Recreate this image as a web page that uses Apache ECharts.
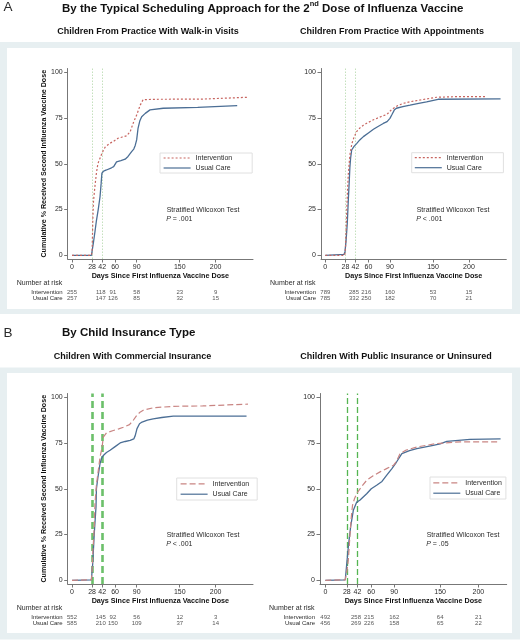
<!DOCTYPE html>
<html>
<head>
<meta charset="utf-8">
<script src="https://cdn.jsdelivr.net/npm/echarts@6/dist/echarts.min.js"></script>
<style>
html,body{margin:0;padding:0;background:#fff;}
#main{width:520px;height:641px;}
</style>
</head>
<body>
<div id="main"></div>
<script>
// ticks and table columns
var dayTicks = [0, 28, 42, 60, 90, 150, 200];
var pctTicks = [0, 25, 50, 75, 100];
var refDays = [28, 42];
var riskDays = [0, 40, 57, 90, 150, 200];
var riskRows = ['Intervention', 'Usual Care'];

// A: walk-in practice  [day, cumulative %]
var walkInIntervention = [[0,0],[27,0],[28,2],[29,20],[30,30],[32,38],[34,45],[36,50],[39,53],[42,56],[46,59],[52,61],[58,62.3],[64,63.9],[70,64.6],[76,65.2],[81,67.5],[85,72],[90,76.6],[95,82],[99,85],[120,85.2],[182,85.3],[183,86.3],[245,86.3]];
var walkInUsual = [[0,0],[27,0],[28,1],[29.7,6.6],[32,13],[34,19],[36.5,25],[39,32],[40.5,39],[41.6,44.8],[44,46],[48,46.6],[55,47.8],[58,48.4],[62,51],[68,51.7],[74,52.5],[78,54],[83,56.6],[86,58],[88,60],[90,63],[92,69.5],[94.5,73.5],[97,75.7],[102,77.5],[108.6,79.4],[127,80.3],[175,80.8],[176,81.7],[230,81.7]];
var walkInRiskInt = [255, 118, 91, 58, 23, 9];
var walkInRiskUsual = [257, 147, 126, 85, 32, 15];

// A: appointment practice
var apptIntervention = [[0,0],[27,0],[28,3],[29,14],[30,26],[31,36],[32,44],[33.4,51],[34.5,55.5],[37,61],[40,64.5],[43.6,67.5],[48,69.5],[53,71],[60,72.6],[67,74],[78,75.8],[86,77],[88,77.6],[92,79.5],[95,80.3],[101,81.8],[108.6,83],[120,84],[132,84.8],[155,86.3],[187,86.7],[225,86.7]];
var apptUsual = [[0,0],[26,0.5],[27.4,2],[28.8,7.5],[30.6,17.5],[32,30],[33.4,41],[34.2,48],[35.2,53],[36.7,57.5],[40,59.5],[43.6,61],[48,63],[53,64.8],[60,66.8],[67,68.8],[74,70.5],[80.7,72],[86,73],[90,74.8],[93,77],[96,79.3],[99,80.3],[108,81.2],[118,82],[130,83],[141,83.8],[157,85.2],[244,85.4]];
var apptRiskInt = [789, 285, 216, 160, 53, 15];
var apptRiskUsual = [785, 332, 250, 182, 70, 21];

// B: commercial insurance
var commIntervention = [[0,0],[27,0.3],[28,5],[29,16],[30,22],[31,30],[32,42],[34,52],[36.6,60],[39,67.3],[41.6,72],[43.6,78.2],[48,80.5],[57.5,81.8],[65,82.7],[71.5,83.6],[80,85],[85,87.2],[90,90],[94.7,91.8],[100,93],[113,94.2],[141,95],[182,95.2],[183,96.2],[245,96.2]];
var commUsual = [[0,0],[27,0.3],[28,1],[28.8,9],[31,25.6],[33.4,40],[34,50],[36,56],[39,63.7],[41,66.5],[43.6,68.2],[48,69.8],[53,71],[60,73],[67,75],[74,75.8],[81,76.4],[86,77.2],[88,79],[90.5,82.8],[94,85.5],[97.5,86.4],[105,87.5],[113,88.2],[125,88.9],[141,89.6],[243,89.6]];
var commRiskInt = [552, 145, 92, 56, 12, 3];
var commRiskUsual = [585, 210, 150, 109, 37, 14];

// B: public insurance or uninsured
var publicIntervention = [[0,0],[26,0.3],[27,1],[28.5,6],[30,11],[32.3,25.6],[34,35],[35.5,41],[38,44.5],[41,47.4],[47,51],[54,54.6],[62,57],[71.5,59.2],[80,61],[89,62.8],[93,65],[97.6,69.2],[105,71],[119.5,72.8],[145.6,74.7],[176,75.6],[228,75.6]];
var publicUsual = [[0,0],[26,0.3],[27,4.7],[30,18.3],[33,29.2],[36.6,38.3],[41,42.7],[45,43.7],[54,47.3],[60,50],[67,51.9],[74,54],[80,57.3],[87,61],[93,64.6],[100,69.2],[110,70.8],[119.5,71.9],[141,73.7],[150,74.5],[158.7,75.9],[189,77],[229,77.2]];
var publicRiskInt = [492, 258, 215, 162, 64, 21];
var publicRiskUsual = [456, 269, 226, 158, 65, 22];

var FONT = 'Liberation Sans';
var BLUE = '#4b6e95';
var TXT = '#2b2b2b';

var panels = [
  {key:'A1', sub:'Children From Practice With Walk-in Visits', subX:148, subY:31.7,
   left:67.7, top:68.5, width:185.3, xMin:-6, xMax:252, yTitle:true,
   intv:walkInIntervention, usual:walkInUsual, rI:walkInRiskInt, rU:walkInRiskUsual,
   p:' = .001', txtX:166.7, txtY:210, lg:{left:160, top:153, pad:[1.5,20,1.5,3], gap:3},
   redColor:'#c7645f', redType:[2,2], refStyle:{color:'#c4e0bd', width:1, type:[1.5,1.5]}},
  {key:'A2', sub:'Children From Practice With Appointments', subX:392, subY:31.7,
   left:321, top:68.5, width:185.3, xMin:-6, xMax:252, yTitle:false,
   intv:apptIntervention, usual:apptUsual, rI:apptRiskInt, rU:apptRiskUsual,
   p:' < .001', txtX:416.7, txtY:210, lg:{left:411.7, top:152.7, pad:[1.5,20,1.5,2.5], gap:3},
   redColor:'#c7645f', redType:[2,2], refStyle:{color:'#c4e0bd', width:1, type:[1.5,1.5]}},
  {key:'B1', sub:'Children With Commercial Insurance', subX:132.5, subY:356.7,
   left:67.7, top:393.5, width:185.3, xMin:-6, xMax:252, yTitle:true,
   intv:commIntervention, usual:commUsual, rI:commRiskInt, rU:commRiskUsual,
   p:' < .001', txtX:166.7, txtY:534.7, lg:{left:176.7, top:478, pad:[2.3,8,2.3,3.3], gap:3.4},
   redColor:'#c98583', redType:[6,3], refStyle:{color:'#6cc06a', width:2.6, type:[7,4]}},
  {key:'B2', sub:'Children With Public Insurance or Uninsured', subX:396, subY:356.7,
   left:320, top:393.5, width:186.7, xMin:-7, xMax:237, yTitle:false,
   intv:publicIntervention, usual:publicUsual, rI:publicRiskInt, rU:publicRiskUsual,
   p:' = .05', txtX:426.7, txtY:534.7, lg:{left:430, top:477, pad:[2.3,4,2.3,2.7], gap:3.4},
   redColor:'#c98583', redType:[6,3], refStyle:{color:'#55b552', width:1.3, type:[6,3]}}
];

var PLOT_H = 190.5;
var grids = [], xAxes = [], yAxes = [], series = [], legends = [], graphics = [];

// graph region boxes
[[42, 48, 261], [367.5, 373, 260]].forEach(function(b){
  graphics.push({type:'rect', z:-20, shape:{x:0, y:b[0], width:520, height:272}, style:{fill:'#e7eff1'}});
  graphics.push({type:'rect', z:-19, shape:{x:7, y:b[1], width:505, height:b[2]}, style:{fill:'#ffffff'}});
});

function txt(t, x, y, size, weight, align, extra){
  var s = {text:t, x:x, y:y, fontFamily:FONT, fontSize:size, fontWeight:weight || 'normal',
           fill:TXT, align:align || 'left', verticalAlign:'middle'};
  if (extra) for (var k in extra) s[k] = extra[k];
  graphics.push({type:'text', z:10, style:s});
}

txt('A', 3.5, 7.5, 13.5);
txt('B', 3.5, 333.5, 13.5);
txt('{a|By the Typical Scheduling Approach for the 2}{s|nd}{a| Dose of Influenza Vaccine}', 62, 7, 11.5, 'bold', 'left', {
  rich:{a:{fontFamily:FONT, fontSize:11.5, fontWeight:'bold', fill:'#111', lineHeight:15, verticalAlign:'bottom'},
        s:{fontFamily:FONT, fontSize:7.5, fontWeight:'bold', fill:'#111', lineHeight:15, verticalAlign:'top'}}
});
txt('By Child Insurance Type', 62, 333, 11.5, 'bold', 'left', {fill:'#111'});

panels.forEach(function(p, i){
  var top = p.top;
  var zero = top + PLOT_H * 102 / 104;
  grids.push({left:p.left, top:top, width:p.width, height:PLOT_H});
  xAxes.push({
    gridIndex:i, type:'value', min:p.xMin, max:p.xMax,
    name:'Days Since First Influenza Vaccine Dose', nameLocation:'middle', nameGap:13.5,
    nameTextStyle:{fontFamily:FONT, fontSize:7.2, fontWeight:'bold', color:'#111'},
    axisLine:{onZero:false, lineStyle:{color:'#777', width:1}},
    axisTick:{length:3.5, customValues:dayTicks, lineStyle:{color:'#777'}},
    axisLabel:{customValues:dayTicks, fontFamily:FONT, fontSize:7, color:TXT, margin:5},
    splitLine:{show:false}
  });
  yAxes.push({
    gridIndex:i, type:'value', min:-2, max:102,
    name:p.yTitle ? 'Cumulative % Received Second Influenza Vaccine Dose' : '',
    nameLocation:'middle', nameGap:20.5,
    nameTextStyle:{fontFamily:FONT, fontSize:7.1, fontWeight:'bold', color:'#111'},
    axisLine:{show:true, onZero:false, lineStyle:{color:'#777', width:1}},
    axisTick:{show:true, length:3.5, customValues:pctTicks, lineStyle:{color:'#777'}},
    axisLabel:{customValues:pctTicks, fontFamily:FONT, fontSize:7, color:TXT, margin:5},
    splitLine:{show:false}
  });
  var nI = 'Intervention|' + p.key, nU = 'Usual Care|' + p.key;
  series.push({
    name:nU, type:'line', xAxisIndex:i, yAxisIndex:i, data:p.usual, symbol:'none', z:3,
    lineStyle:{color:BLUE, width:1.3}, itemStyle:{color:BLUE},
    markLine:{silent:true, symbol:'none', label:{show:false}, z:1,
      lineStyle:p.refStyle, data:refDays.map(function(d){ return {xAxis:d}; })}
  });
  series.push({
    name:nI, type:'line', xAxisIndex:i, yAxisIndex:i, data:p.intv, symbol:'none', z:4,
    lineStyle:{color:p.redColor, width:1.2, type:p.redType}, itemStyle:{color:p.redColor}
  });
  legends.push({
    data:[nI, nU], orient:'vertical', left:p.lg.left, top:p.lg.top,
    itemWidth:27, itemHeight:8, itemGap:p.lg.gap, padding:p.lg.pad,
    borderColor:'#e0e0e0', borderWidth:1, backgroundColor:'#fff',
    selectedMode:false,
    itemStyle:{color:'rgba(0,0,0,0)', borderWidth:0, opacity:0},
    lineStyle:{width:1.2},
    formatter:function(n){ return n.split('|')[0]; },
    textStyle:{fontFamily:FONT, fontSize:7, color:TXT}
  });
  txt('Stratified Wilcoxon Test', p.txtX, p.txtY, 7);
  txt('{i|P}{n|' + p.p + '}', p.txtX - 0.5, p.txtY + 9.3, 7, 'normal', 'left', {
    rich:{i:{fontFamily:FONT, fontSize:7, fontStyle:'italic', fill:TXT},
          n:{fontFamily:FONT, fontSize:7, fill:TXT}}
  });
  txt(p.sub, p.subX, p.subY, 9, 'bold', 'center', {fill:'#111'});
  txt('Number at risk', p.left - 51, zero + 28, 7);
});

// number-at-risk tables, sharing each panel's day scale
panels.forEach(function(p, i){
  var zero = p.top + PLOT_H * 102 / 104;
  var gi = panels.length + i;
  grids.push({left:p.left, top:zero + 33.7, width:p.width, height:12});
  xAxes.push({gridIndex:gi, type:'value', min:p.xMin, max:p.xMax, show:false});
  yAxes.push({
    gridIndex:gi, type:'category', data:riskRows, inverse:true,
    axisLine:{show:false}, axisTick:{show:false},
    axisLabel:{interval:0, hideOverlap:false, fontFamily:FONT, fontSize:6, color:TXT, margin:5}
  });
  var pts = [];
  riskDays.forEach(function(d, k){
    pts.push([d, 0, p.rI[k]]);
    pts.push([d, 1, p.rU[k]]);
  });
  series.push({
    type:'scatter', xAxisIndex:gi, yAxisIndex:gi, data:pts, symbolSize:0, silent:true,
    label:{show:true, position:'inside', fontFamily:FONT, fontSize:6, color:TXT,
           formatter:function(q){ return q.value[2]; }}
  });
});

var chart = echarts.init(document.getElementById('main'));
chart.setOption({
  animation:false,
  backgroundColor:'#ffffff',
  textStyle:{fontFamily:FONT},
  grid:grids, xAxis:xAxes, yAxis:yAxes, series:series, legend:legends,
  graphic:{elements:graphics}
});
</script>
</body>
</html>
